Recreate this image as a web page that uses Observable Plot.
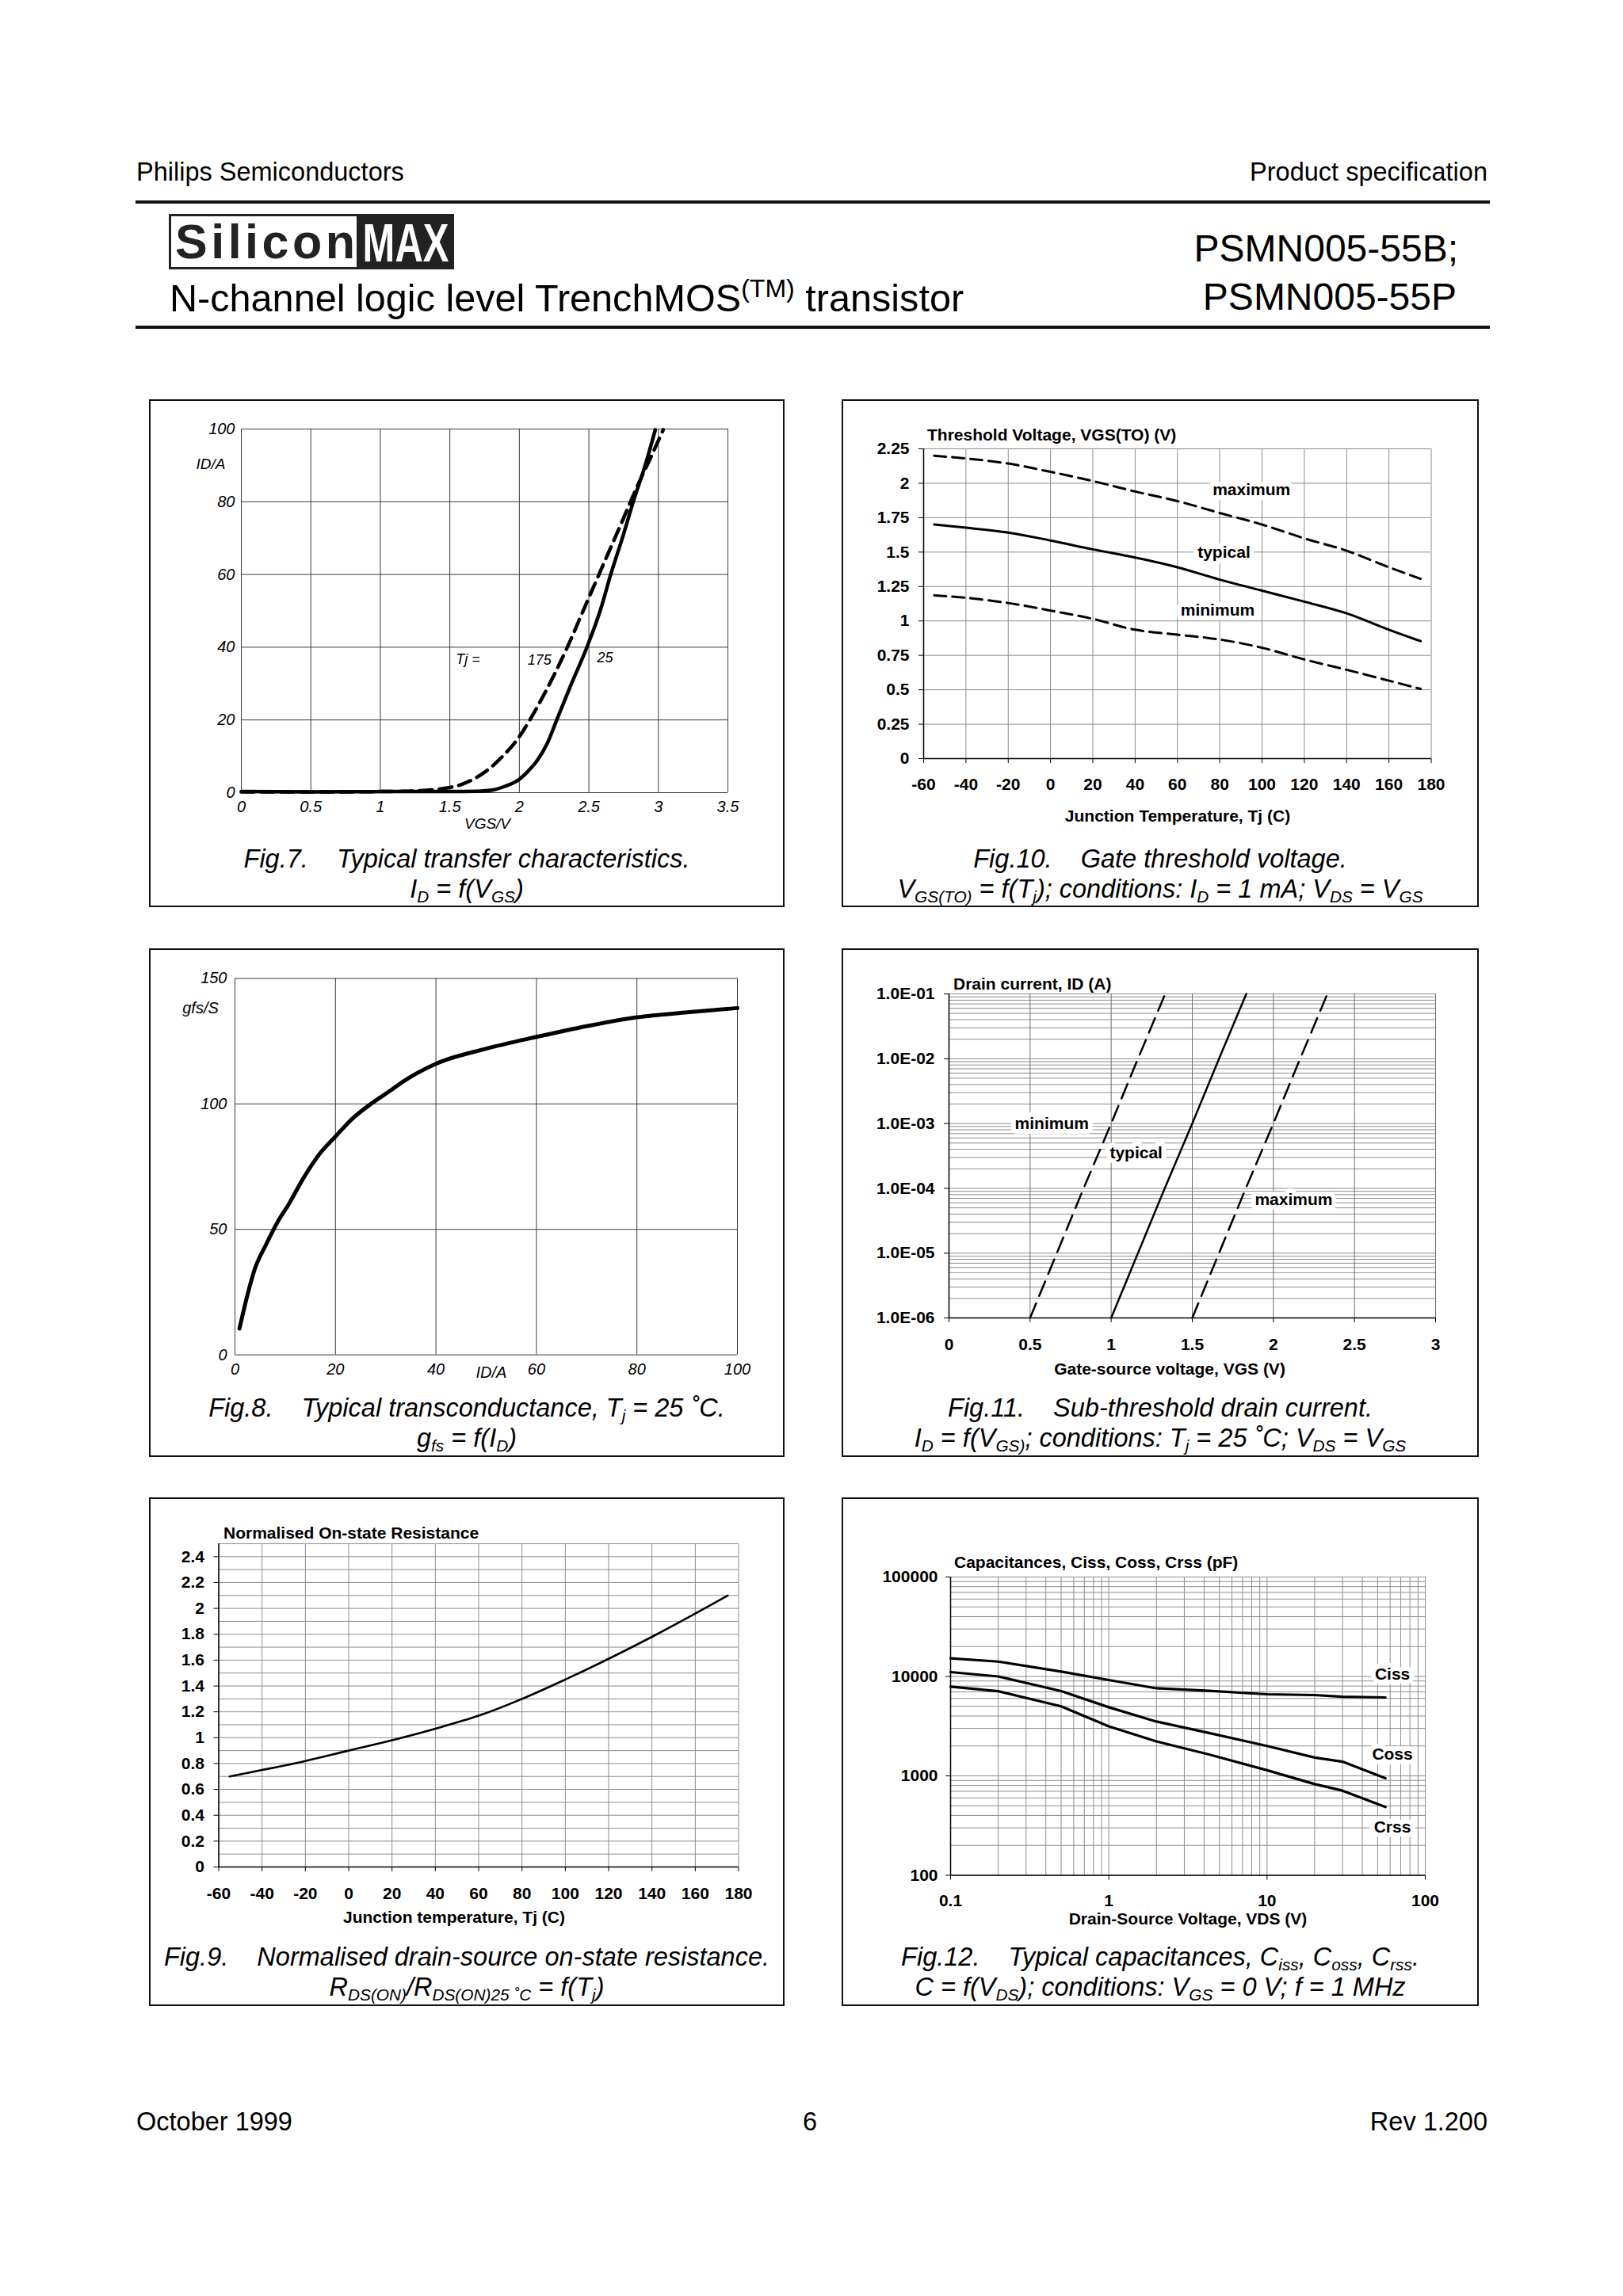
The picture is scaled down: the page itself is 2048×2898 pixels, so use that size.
<!DOCTYPE html>
<html><head><meta charset="utf-8">
<script src="https://cdn.jsdelivr.net/npm/d3@7"></script>
<script src="https://cdn.jsdelivr.net/npm/@observablehq/plot@0.6"></script>
<style>
html,body{margin:0;padding:0;background:#fff;}
#page{position:relative;width:2048px;height:2898px;background:#fff;font-family:"Liberation Sans",Arial,Helvetica,sans-serif;color:#000;overflow:hidden;}
.t{position:absolute;line-height:1;white-space:pre;}
sub{font-size:0.64em;vertical-align:-0.32em;line-height:0;}
</style></head><body><div id="page"></div>
<script>
// ================= DATA =================
// Fig.7 Typical transfer characteristics (ID vs VGS)
const fig7Vgs25  = [0, 0.5, 1.0, 1.5, 1.7, 1.803, 1.9, 1.997, 2.06, 2.126, 2.2, 2.269, 2.373, 2.487, 2.582, 2.658, 2.744, 2.82, 2.905, 2.978];
const fig7Id25   = [0.3, 0.2, 0.3, 0.3, 0.4, 0.7, 1.8, 3.6, 5.8, 8.7, 13.5, 20, 29.8, 40.1, 50.1, 60.1, 70.4, 80.1, 90, 99.8];
const fig7Vgs175 = [0, 0.5, 1.0, 1.2, 1.35, 1.48, 1.58, 1.726, 1.803, 1.874, 1.983, 2.069, 2.183, 2.345, 2.487, 2.601, 2.744, 2.839, 2.943, 3.035];
const fig7Id175  = [0.2, 0.2, 0.3, 0.4, 0.7, 1.3, 2.2, 5, 7.2, 9.8, 14.5, 19.6, 27.4, 40, 52.5, 62.5, 75, 83.5, 92, 99.8];
const fig7XTicks = [0, 0.5, 1, 1.5, 2, 2.5, 3, 3.5];
const fig7YTicks = [0, 20, 40, 60, 80, 100];
const fig7LabelText = ["Tj =", "175", "25"];
const fig7LabelV = [1.63, 2.145, 2.617];
const fig7LabelI = [36.6, 36.4, 37.2];

// Fig.8 Typical transconductance
const fig8Id  = [0.9, 2.5, 3.9, 6.2, 8.5, 10.7, 13.5, 16.8, 20, 23.3, 27.4, 30.7, 33.9, 40, 50, 60, 70, 80, 90, 100];
const fig8Gfs = [10.5, 24, 34, 44, 53, 60, 70, 80, 87, 94, 100.5, 105, 109.5, 116, 122, 126.7, 131, 134.5, 136.5, 138.2];
const fig8XTicks = [0, 20, 40, 60, 80, 100];
const fig8YTicks = [0, 50, 100, 150];

// Fig.9 Normalised on-state resistance
const fig9Tj = [-55, -40, -20, 0, 20, 40, 60, 80, 100, 120, 140, 160, 175];
const fig9R  = [0.70, 0.75, 0.82, 0.90, 0.98, 1.07, 1.17, 1.30, 1.45, 1.61, 1.78, 1.96, 2.10];
const fig9XTicks = [-60, -40, -20, 0, 20, 40, 60, 80, 100, 120, 140, 160, 180];
const fig9YTicks = [0, 0.2, 0.4, 0.6, 0.8, 1, 1.2, 1.4, 1.6, 1.8, 2, 2.2, 2.4];
const fig9YGrid  = [0, 0.1, 0.2, 0.3, 0.4, 0.5, 0.6, 0.7, 0.8, 0.9, 1, 1.1, 1.2, 1.3, 1.4, 1.5, 1.6, 1.7, 1.8, 1.9, 2, 2.1, 2.2, 2.3, 2.4, 2.5];

// Fig.10 Gate threshold voltage
const fig10Tj  = [-55, -40, -20, 0, 20, 40, 60, 80, 100, 120, 140, 160, 175];
const fig10Max = [2.20, 2.18, 2.143, 2.083, 2.016, 1.94, 1.87, 1.784, 1.70, 1.60, 1.51, 1.39, 1.306];
const fig10Typ = [1.70, 1.677, 1.642, 1.584, 1.52, 1.46, 1.39, 1.30, 1.22, 1.14, 1.055, 0.936, 0.853];
const fig10Min = [1.185, 1.168, 1.13, 1.075, 1.015, 0.936, 0.90, 0.865, 0.805, 0.72, 0.645, 0.566, 0.506];
const fig10XTicks = [-60, -40, -20, 0, 20, 40, 60, 80, 100, 120, 140, 160, 180];
const fig10YTicks = [0, 0.25, 0.5, 0.75, 1, 1.25, 1.5, 1.75, 2, 2.25];
const fig10LabelText = ["maximum", "typical", "minimum"];
const fig10LabelTj = [95, 82, 79];
const fig10LabelV = [1.95, 1.5, 1.075];

// Fig.11 Sub-threshold drain current
const fig11Id  = [1e-6, 1e-5, 1e-4, 1e-3, 1e-2, 1e-1];
const fig11Min = [0.50, 0.665, 0.83, 1.00, 1.165, 1.333];
const fig11Typ = [1.00, 1.165, 1.33, 1.50, 1.665, 1.833];
const fig11Max = [1.50, 1.665, 1.83, 2.00, 2.165, 2.333];
const fig11XTicks = [0, 0.5, 1, 1.5, 2, 2.5, 3];
const fig11YTicks = [1e-6, 1e-5, 1e-4, 1e-3, 1e-2, 1e-1];
const fig11YTickLabels = ["1.0E-06", "1.0E-05", "1.0E-04", "1.0E-03", "1.0E-02", "1.0E-01"];
const fig11LabelText = ["minimum", "typical", "maximum"];
const fig11LabelV = [0.634, 1.154, 2.125];
const fig11LabelI = [1e-3, 3.5e-4, 6.6e-5];

// Fig.12 Typical capacitances
const fig12Vds  = [0.1, 0.2, 0.5, 1, 2, 4.3, 10, 20, 30, 56];
const fig12Ciss = [15200, 14100, 11200, 9200, 7600, 7160, 6620, 6500, 6240, 6150];
const fig12Coss = [11060, 10000, 7130, 4900, 3520, 2700, 2000, 1530, 1390, 948];
const fig12Crss = [7900, 7100, 5000, 3150, 2220, 1640, 1140, 827, 710, 486];
const fig12XTicks = [0.1, 1, 10, 100];
const fig12YTicks = [100, 1000, 10000, 100000];
const fig12LabelText = ["Ciss", "Coss", "Crss"];
const fig12LabelV = [62, 62, 62];
const fig12LabelC = [10600, 1640, 302];

// ================= LAYOUT HELPERS =================
const page = document.getElementById("page");
const FONT = "'Liberation Sans', Arial, Helvetica, sans-serif";

function txt(html, x, y, o = {}) {
  const d = document.createElement("div");
  d.className = "t";
  d.innerHTML = html;
  const tx = o.anchor === "middle" ? -50 : o.anchor === "end" ? -100 : 0;
  d.style.left = x + "px";
  d.style.top = y + "px";
  d.style.transform = `translate(${tx}%, -50%)` + (o.scaleX ? ` scaleX(${o.scaleX})` : "");
  d.style.fontSize = (o.size || 20) + "px";
  d.style.fontWeight = o.weight || "normal";
  d.style.fontStyle = o.italic ? "italic" : "normal";
  if (o.color) d.style.color = o.color;
  if (o.spacing) d.style.letterSpacing = o.spacing + "px";
  page.appendChild(d);
  return d;
}
function box(x, y, w, h, css) {
  const d = document.createElement("div");
  d.style.cssText = `position:absolute;left:${x}px;top:${y}px;width:${w}px;height:${h}px;` + (css || "");
  page.appendChild(d);
  return d;
}
function chart(panel, rect, svgH, fontCss, opts) {
  const svg = Plot.plot({
    width: panel.w, height: svgH,
    marginLeft: rect[0] - panel.x, marginTop: rect[1] - panel.y,
    marginRight: panel.x + panel.w - rect[2], marginBottom: panel.y + svgH - rect[3],
    ...opts
  });
  svg.setAttribute("style", `position:absolute;left:${panel.x}px;top:${panel.y}px;overflow:visible;max-width:none;background:none;font-family:${FONT};${fontCss}`);
  page.appendChild(svg);
  return svg;
}
function caption(panel, l1, l2) {
  const cx = panel.x + panel.w / 2;
  txt(l1, cx, panel.y + 580, {anchor: "middle", size: 32.5, italic: true});
  txt(l2, cx, panel.y + 618, {anchor: "middle", size: 32.5, italic: true});
}
const fmt = d => String(d);

// ================= HEADER / FOOTER =================
txt("Philips Semiconductors", 172, 217, {size: 32.5});
txt("Product specification", 1877, 217, {size: 32.5, anchor: "end"});
box(171, 253, 1709, 4, "background:#111;");
// logo
box(213, 270, 240, 70, "border:3px solid #222;box-sizing:border-box;background:#fff;");
txt("Silicon", 221, 305, {size: 61, weight: "bold", spacing: 4.5, color: "#222"});
box(451, 270, 122, 70, "background:#222;");
txt("MAX", 512, 306, {size: 68, weight: "bold", anchor: "middle", scaleX: 0.72, color: "#fff"});
txt("N-channel logic level TrenchMOS<sup style=\"font-size:0.66em;vertical-align:0.55em;line-height:0\">(TM)</sup> transistor", 214, 376, {size: 48.6});
txt("PSMN005-55B;", 1840, 314, {size: 48, anchor: "end"});
txt("PSMN005-55P", 1838, 375, {size: 48, anchor: "end"});
box(171, 411, 1709, 4, "background:#111;");

txt("October 1999", 172, 2678, {size: 32.5});
txt("6", 1022, 2678, {size: 32.5, anchor: "middle"});
txt("Rev 1.200", 1877, 2678, {size: 32.5, anchor: "end"});

// ================= PANELS =================
const P7  = {x: 188,  y: 504,  w: 802, h: 641};
const P10 = {x: 1062, y: 504,  w: 804, h: 641};
const P8  = {x: 188,  y: 1197, w: 802, h: 642};
const P11 = {x: 1062, y: 1197, w: 804, h: 642};
const P9  = {x: 188,  y: 1890, w: 802, h: 642};
const P12 = {x: 1062, y: 1890, w: 804, h: 642};
for (const p of [P7, P10, P8, P11, P9, P12]) box(p.x, p.y, p.w, p.h, "border:2px solid #111;box-sizing:border-box;");

const excelGrid = {stroke: "#8c8c8c", strokeOpacity: 1, strokeWidth: 1};
const excelFont = "font-size:21px;font-weight:bold;";

// ---------- Fig.7 ----------
chart(P7, [304, 541, 918, 1000], 570, "font-size:20px;font-style:italic;", {
  x: {domain: [0, 3.5]},
  y: {domain: [0, 100]},
  marks: [
    Plot.gridX(fig7XTicks, {stroke: "#3a3a3a", strokeOpacity: 1}),
    Plot.gridY(fig7YTicks, {stroke: "#3a3a3a", strokeOpacity: 1}),
    Plot.axisX(fig7XTicks, {tickSize: 0, tickPadding: 10, tickFormat: fmt}),
    Plot.axisY(fig7YTicks, {tickSize: 0, tickPadding: 8, tickFormat: fmt}),
    Plot.line(fig7Vgs175, {x: fig7Vgs175, y: fig7Id175, stroke: "#000", strokeWidth: 4.5, strokeDasharray: "16,9", curve: "monotone-x"}),
    Plot.line(fig7Vgs25, {x: fig7Vgs25, y: fig7Id25, stroke: "#000", strokeWidth: 4.5, curve: "monotone-x"}),
    Plot.text(fig7LabelText, {x: (d, i) => fig7LabelV[i], y: (d, i) => fig7LabelI[i], text: d => d, fontSize: 18, fontStyle: "italic"})
  ]
});
txt("ID/A", 266, 585, {size: 19, italic: true, anchor: "middle"});
txt("VGS/V", 615, 1039, {size: 19, italic: true, anchor: "middle"});
caption(P7, "Fig.7.    Typical transfer characteristics.", "I<sub>D</sub> = f(V<sub>GS</sub>)");

// ---------- Fig.10 ----------
chart(P10, [1165, 566, 1805.5, 957], 570, excelFont, {
  x: {domain: [-60, 180]},
  y: {domain: [0, 2.25]},
  marks: [
    Plot.gridX(fig10XTicks, excelGrid),
    Plot.gridY(fig10YTicks, excelGrid),
    Plot.ruleX([-60], {stroke: "#000", strokeWidth: 1.5}),
    Plot.ruleY([0], {stroke: "#000", strokeWidth: 1.5}),
    Plot.axisX(fig10XTicks, {tickSize: 6, tickPadding: 19, tickFormat: fmt}),
    Plot.axisY(fig10YTicks, {tickSize: 6, tickPadding: 12, tickFormat: fmt}),
    Plot.line(fig10Tj, {x: fig10Tj, y: fig10Max, stroke: "#000", strokeWidth: 3, strokeDasharray: "15,8", curve: "catmull-rom"}),
    Plot.line(fig10Tj, {x: fig10Tj, y: fig10Typ, stroke: "#000", strokeWidth: 3, curve: "catmull-rom"}),
    Plot.line(fig10Tj, {x: fig10Tj, y: fig10Min, stroke: "#000", strokeWidth: 3, strokeDasharray: "15,8", curve: "catmull-rom"}),
    Plot.text(fig10LabelText, {x: (d, i) => fig10LabelTj[i], y: (d, i) => fig10LabelV[i], text: d => d, fontSize: 21, fontWeight: "bold", fill: "#000", stroke: "#fff", strokeWidth: 12})
  ]
});
txt("Threshold Voltage, VGS(TO) (V)", 1170, 548, {size: 21, weight: "bold"});
txt("Junction Temperature, Tj (C)", 1486, 1029, {size: 21, weight: "bold", anchor: "middle"});
caption(P10, "Fig.10.    Gate threshold voltage.", "V<sub>GS(TO)</sub> = f(T<sub>j</sub>); conditions: I<sub>D</sub> = 1 mA; V<sub>DS</sub> = V<sub>GS</sub>");

// ---------- Fig.8 ----------
chart(P8, [296, 1234.5, 930, 1709.6], 570, "font-size:20px;font-style:italic;", {
  x: {domain: [0, 100]},
  y: {domain: [0, 150]},
  marks: [
    Plot.gridX(fig8XTicks, {stroke: "#3a3a3a", strokeOpacity: 1}),
    Plot.gridY(fig8YTicks, {stroke: "#3a3a3a", strokeOpacity: 1}),
    Plot.axisX(fig8XTicks, {tickSize: 0, tickPadding: 11, tickFormat: fmt}),
    Plot.axisY(fig8YTicks, {tickSize: 0, tickPadding: 10, tickFormat: fmt}),
    Plot.line(fig8Id, {x: fig8Id, y: fig8Gfs, stroke: "#000", strokeWidth: 5, curve: "monotone-x"})
  ]
});
txt("gfs/S", 253, 1272, {size: 20, italic: true, anchor: "middle"});
txt("ID/A", 620, 1732, {size: 20, italic: true, anchor: "middle"});
caption(P8, "Fig.8.    Typical transconductance, T<sub>j</sub> = 25 ˚C.", "g<sub>fs</sub> = f(I<sub>D</sub>)");

// ---------- Fig.11 ----------
const fig11YGrid = [];
for (let e = -6; e < -1; e++) for (let m = 1; m < 10; m++) fig11YGrid.push(m * Math.pow(10, e));
fig11YGrid.push(1e-1);
chart(P11, [1197, 1254, 1811, 1663], 570, excelFont, {
  x: {domain: [0, 3]},
  y: {type: "log", domain: [1e-6, 1e-1]},
  marks: [
    Plot.gridY(fig11YGrid, excelGrid),
    Plot.gridX(fig11XTicks, {stroke: "#6e6e6e", strokeOpacity: 1}),
    Plot.ruleX([0], {stroke: "#000", strokeWidth: 1.5}),
    Plot.ruleY([1e-6], {stroke: "#000", strokeWidth: 1.5}),
    Plot.axisX(fig11XTicks, {tickSize: 6, tickPadding: 20, tickFormat: fmt}),
    Plot.axisY(fig11YTicks, {tickSize: 6, tickPadding: 12, tickFormat: d => fig11YTickLabels[fig11YTicks.indexOf(d)]}),
    Plot.line(fig11Id, {x: fig11Min, y: fig11Id, stroke: "#000", strokeWidth: 2.5, strokeDasharray: "20,10"}),
    Plot.line(fig11Id, {x: fig11Typ, y: fig11Id, stroke: "#000", strokeWidth: 2.5}),
    Plot.line(fig11Id, {x: fig11Max, y: fig11Id, stroke: "#000", strokeWidth: 2.5, strokeDasharray: "20,10"}),
    Plot.text(fig11LabelText, {x: (d, i) => fig11LabelV[i], y: (d, i) => fig11LabelI[i], text: d => d, fontSize: 21, fontWeight: "bold", fill: "#000", stroke: "#fff", strokeWidth: 12})
  ]
});
txt("Drain current, ID (A)", 1203, 1241, {size: 21, weight: "bold"});
txt("Gate-source voltage, VGS (V)", 1476, 1727, {size: 21, weight: "bold", anchor: "middle"});
caption(P11, "Fig.11.    Sub-threshold drain current.", "I<sub>D</sub> = f(V<sub>GS)</sub>; conditions: T<sub>j</sub> = 25 ˚C; V<sub>DS</sub> = V<sub>GS</sub>");

// ---------- Fig.9 ----------
chart(P9, [275.5, 1948, 931.5, 2356], 570, excelFont, {
  x: {domain: [-60, 180]},
  y: {domain: [0, 2.5]},
  marks: [
    Plot.gridX(fig9XTicks, excelGrid),
    Plot.gridY(fig9YGrid, excelGrid),
    Plot.ruleX([-60], {stroke: "#000", strokeWidth: 1.5}),
    Plot.ruleY([0], {stroke: "#000", strokeWidth: 1.5}),
    Plot.axisX(fig9XTicks, {tickSize: 6, tickPadding: 20, tickFormat: fmt}),
    Plot.axisY(fig9YTicks, {tickSize: 6, tickPadding: 12, tickFormat: fmt}),
    Plot.line(fig9Tj, {x: fig9Tj, y: fig9R, stroke: "#000", strokeWidth: 2.6, curve: "catmull-rom"})
  ]
});
txt("Normalised On-state Resistance", 282, 1934, {size: 21, weight: "bold"});
txt("Junction temperature, Tj (C)", 573, 2419, {size: 21, weight: "bold", anchor: "middle"});
caption(P9, "Fig.9.    Normalised drain-source on-state resistance.", "R<sub>DS(ON)</sub>/R<sub>DS(ON)25 ˚C</sub> = f(T<sub>j</sub>)");

// ---------- Fig.12 ----------
const fig12XGrid = [], fig12YGrid = [];
for (let e = -1; e < 2; e++) for (let m = 1; m < 10; m++) fig12XGrid.push(+(m * Math.pow(10, e)).toPrecision(3));
fig12XGrid.push(100);
for (let e = 2; e < 5; e++) for (let m = 1; m < 10; m++) fig12YGrid.push(m * Math.pow(10, e));
fig12YGrid.push(100000);
chart(P12, [1199, 1990, 1798, 2366.5], 570, excelFont, {
  x: {type: "log", domain: [0.1, 100]},
  y: {type: "log", domain: [100, 100000]},
  marks: [
    Plot.gridX(fig12XGrid, excelGrid),
    Plot.gridY(fig12YGrid, excelGrid),
    Plot.ruleX([0.1], {stroke: "#000", strokeWidth: 1.5}),
    Plot.ruleY([100], {stroke: "#000", strokeWidth: 1.5}),
    Plot.axisX(fig12XTicks, {tickSize: 6, tickPadding: 18, tickFormat: fmt}),
    Plot.axisY(fig12YTicks, {tickSize: 6, tickPadding: 10, tickFormat: fmt}),
    Plot.line(fig12Vds, {x: fig12Vds, y: fig12Ciss, stroke: "#000", strokeWidth: 3.2}),
    Plot.line(fig12Vds, {x: fig12Vds, y: fig12Coss, stroke: "#000", strokeWidth: 3.2}),
    Plot.line(fig12Vds, {x: fig12Vds, y: fig12Crss, stroke: "#000", strokeWidth: 3.2}),
    Plot.text(fig12LabelText, {x: (d, i) => fig12LabelV[i], y: (d, i) => fig12LabelC[i], text: d => d, fontSize: 21, fontWeight: "bold", fill: "#000", stroke: "#fff", strokeWidth: 12})
  ]
});
txt("Capacitances, Ciss, Coss, Crss (pF)", 1204, 1971, {size: 21, weight: "bold"});
txt("Drain-Source Voltage, VDS (V)", 1499, 2421, {size: 21, weight: "bold", anchor: "middle"});
caption(P12, "Fig.12.    Typical capacitances, C<sub>iss</sub>, C<sub>oss</sub>, C<sub>rss</sub>.", "C = f(V<sub>DS</sub>); conditions: V<sub>GS</sub> = 0 V; f = 1 MHz");
</script></body></html>
